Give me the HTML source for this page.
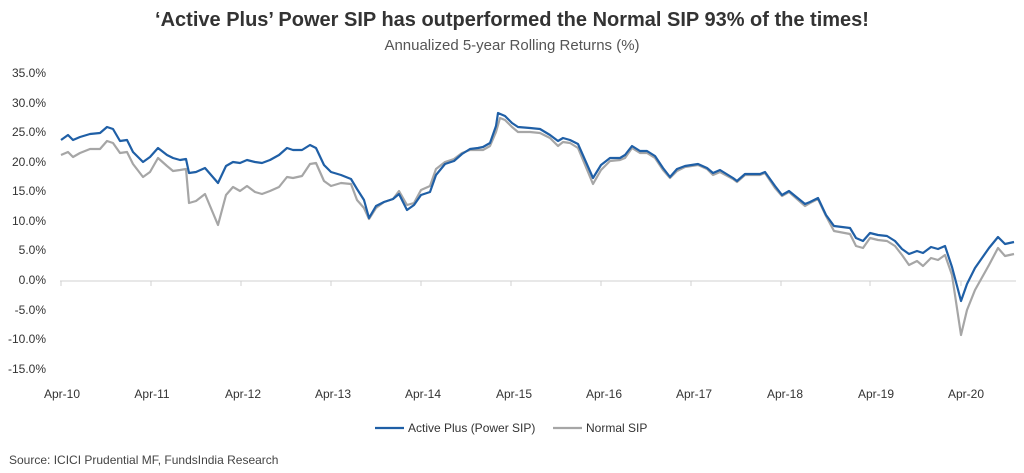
<!DOCTYPE html>
<html><head><meta charset="utf-8"><style>
body{margin:0;background:#fff;}
svg{display:block;font-family:"Liberation Sans",sans-serif;}
</style></head><body>
<svg width="1024" height="473" viewBox="0 0 1024 473">
<text x="512" y="26" text-anchor="middle" font-size="20" font-weight="bold" fill="#333">‘Active Plus’ Power SIP has outperformed the Normal SIP 93% of the times!</text>
<text x="512" y="50" text-anchor="middle" font-size="15" fill="#555">Annualized 5-year Rolling Returns (%)</text>
<g font-size="12" fill="#333" text-anchor="end">
<text x="46" y="77">35.0%</text><text x="46" y="107">30.0%</text><text x="46" y="136">25.0%</text><text x="46" y="166">20.0%</text><text x="46" y="195">15.0%</text><text x="46" y="225">10.0%</text><text x="46" y="254">5.0%</text><text x="46" y="284">0.0%</text><text x="46" y="314">-5.0%</text><text x="46" y="343">-10.0%</text><text x="46" y="373">-15.0%</text>
</g>
<line x1="60" y1="281" x2="1016" y2="281" stroke="#d0d0d0" stroke-width="1"/>
<g stroke="#d0d0d0">
<line x1="61" y1="281" x2="61" y2="286"/><line x1="151" y1="281" x2="151" y2="286"/><line x1="241" y1="281" x2="241" y2="286"/><line x1="331" y1="281" x2="331" y2="286"/><line x1="421" y1="281" x2="421" y2="286"/><line x1="511" y1="281" x2="511" y2="286"/><line x1="601" y1="281" x2="601" y2="286"/><line x1="691" y1="281" x2="691" y2="286"/><line x1="781" y1="281" x2="781" y2="286"/><line x1="870" y1="281" x2="870" y2="286"/><line x1="961" y1="281" x2="961" y2="286"/>
</g>
<g font-size="12" fill="#333" text-anchor="middle">
<text x="62" y="398">Apr-10</text><text x="152" y="398">Apr-11</text><text x="243" y="398">Apr-12</text><text x="333" y="398">Apr-13</text><text x="423" y="398">Apr-14</text><text x="514" y="398">Apr-15</text><text x="604" y="398">Apr-16</text><text x="694" y="398">Apr-17</text><text x="785" y="398">Apr-18</text><text x="876" y="398">Apr-19</text><text x="966" y="398">Apr-20</text>
</g>
<polyline fill="none" stroke="#a6a6a6" stroke-width="2.2" stroke-linejoin="round" points="61,155 68,152 73,157 80,153 90,149 100,149 107,141 113,143 120,153 127,152 133,164 143,177 150,172 158,158 167,166 173,171 180,170 186,169 189,203 196,201 205,194 218,225 226,195 233,187 240,191 247,186 255,192 262,194 270,191 279,187 287,177 293,178 302,176 310,164 316,163 324,181 331,186 341,183 351,184 357,200 364,208 369,219 376,208 384,202 393,199 399,191 407,205 414,203 421,190 430,186 436,169 445,162 454,159 462,153 470,150 478,150 483,150 490,146 496,132 500,118 505,120 512,127 518,132 530,132 540,133 550,138 558,146 563,142 570,143 578,148 593,184 601,170 610,161 620,160 625,158 632,148 640,153 647,153 655,158 663,170 670,178 677,171 685,167 698,165 707,169 713,175 720,172 733,179 737,182 745,175 760,175 765,173 775,188 782,196 789,192 805,206 810,203 818,199 826,216 834,231 850,234 856,246 863,248 870,238 878,240 887,241 895,246 902,255 909,265 917,261 923,266 931,258 938,260 945,255 952,275 961,335 967,310 975,290 989,265 998,248 1005,256 1014,254"/>
<polyline fill="none" stroke="#1f5fa6" stroke-width="2.2" stroke-linejoin="round" points="61,140 68,135 73,140 80,137 90,134 100,133 107,127 113,129 120,141 127,140 133,152 143,162 150,157 158,148 167,155 173,158 180,160 186,159 189,173 196,172 205,168 218,183 226,166 233,162 240,163 247,160 255,162 262,163 270,160 279,155 287,148 293,150 302,150 310,145 316,148 324,165 331,172 341,175 351,179 357,189 364,200 369,218 376,206 384,202 393,199 399,194 407,210 414,205 421,195 430,192 436,175 445,164 454,161 462,154 470,149 478,148 483,147 490,143 496,126 498,113 505,116 512,123 518,127 530,128 540,129 550,135 558,141 563,138 570,140 578,144 593,178 601,165 610,158 620,158 625,155 632,146 640,151 647,151 655,156 663,168 670,177 677,169 685,166 698,164 707,168 713,173 720,170 733,178 737,181 745,174 760,174 765,172 775,186 782,195 789,191 805,204 810,202 818,198 826,215 834,226 850,228 856,238 863,241 870,233 878,235 887,236 895,241 902,249 909,254 917,251 923,253 931,247 938,249 945,246 952,267 961,301 967,284 975,268 989,248 998,237 1005,244 1014,242"/>
<line x1="375" y1="428" x2="404" y2="428" stroke="#1f5fa6" stroke-width="2.2"/>
<text x="408" y="432" font-size="12" fill="#333">Active Plus (Power SIP)</text>
<line x1="553" y1="428" x2="582" y2="428" stroke="#a6a6a6" stroke-width="2.2"/>
<text x="586" y="432" font-size="12" fill="#333">Normal SIP</text>
<text x="9" y="464" font-size="12" fill="#444">Source: ICICI Prudential MF, FundsIndia Research</text>
</svg>
</body></html>
